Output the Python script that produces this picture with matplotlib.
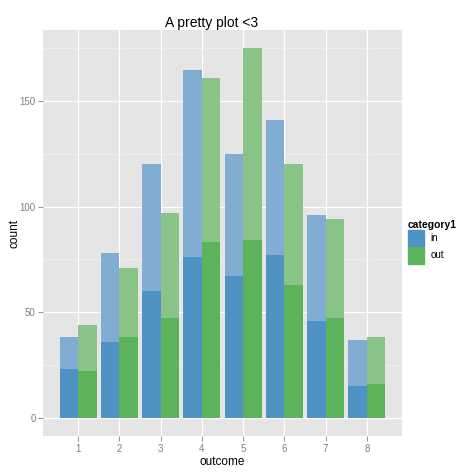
import matplotlib
matplotlib.use("Agg")
import matplotlib.pyplot as plt
from matplotlib.patches import Patch
import numpy as np

plt.rcParams['font.family'] = ['Liberation Sans', 'DejaVu Sans']

# data
outcome = [1, 2, 3, 4, 5, 6, 7, 8]
in_total = [38, 78, 120, 165, 125, 141, 96, 37]
in_sub = [23, 36, 60, 76, 67, 77, 46, 15]
out_total = [44, 71, 97, 161, 175, 120, 94, 38]
out_sub = [22, 38, 47, 83, 84, 63, 47, 16]
categories = ['in', 'out']

blue_light, blue_dark = '#80ADD1', '#4F92C4'
green_light, green_dark = '#89C387', '#5DB35B'

W = 474
fig = plt.figure(figsize=(W / 100, W / 100), dpi=100)
# panel placed in pixels: left 43, right 402, top 30, bottom 436
ax = fig.add_axes([43.3 / W, (W - 436) / W, (401.7 - 43.3) / W, (436 - 30) / W])
ax.set_facecolor('#E5E5E5')

x = np.array(outcome)
bw = 0.45
ax.bar(x - bw / 2, in_total, width=bw, color=blue_light, zorder=3)
ax.bar(x - bw / 2, in_sub, width=bw, color=blue_dark, zorder=4)
ax.bar(x + bw / 2, out_total, width=bw, color=green_light, zorder=3)
ax.bar(x + bw / 2, out_sub, width=bw, color=green_dark, zorder=4)

# ggplot-like expansion
lo, hi = 0.55, 8.45
ax.set_xlim(lo - 0.05 * (hi - lo), hi + 0.05 * (hi - lo))
ymax = max(max(in_total), max(out_total))
ax.set_ylim(-0.05 * ymax, ymax * 1.05)

ax.set_xticks(outcome)
ax.set_yticks([0, 50, 100, 150])
ax.set_yticks([25, 75, 125, 175], minor=True)
ax.grid(which='major', color='white', linewidth=0.9, zorder=1)
ax.grid(which='minor', axis='y', color='#F2F2F2', linewidth=0.5, zorder=1)
ax.set_axisbelow(True)
for s in ax.spines.values():
    s.set_visible(False)
ax.tick_params(which='major', colors='#7F7F7F', labelsize=7, length=3.5, width=0.6, pad=2)
ax.tick_params(which='minor', length=0)

ax.set_xlabel('outcome', fontsize=8.5, labelpad=2)
ax.set_ylabel('count', fontsize=8.5, labelpad=-1)
fig.text(211.7 / W, 1 - 23 / W, 'A pretty plot <3', ha='center', va='center', fontsize=10)

handles = [Patch(color=blue_dark), Patch(color=green_dark)]
leg = ax.legend(handles, categories, title='category1', loc='upper left',
                bbox_to_anchor=(406 / W, 1 - 218 / W), bbox_transform=fig.transFigure,
                frameon=False, fontsize=7, handlelength=1.7, handleheight=2.3,
                labelspacing=0, handletextpad=0.6, borderpad=0.2, borderaxespad=0,
                alignment='left', title_fontproperties={'weight': 'bold', 'size': 7.5})

fig.savefig('out.png', dpi=100)
